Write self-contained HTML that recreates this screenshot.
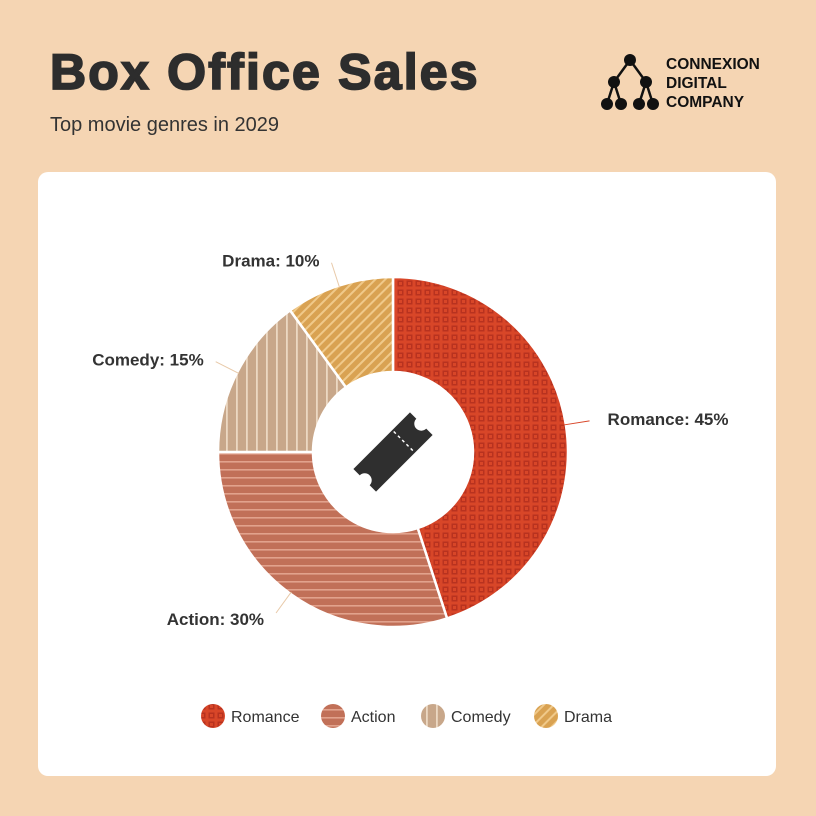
<!DOCTYPE html>
<html><head><meta charset="utf-8"><style>
body{margin:0;width:816px;height:816px;background:#f5d5b3;font-family:"Liberation Sans",sans-serif;position:relative;overflow:hidden}
#title{position:absolute;left:50px;top:43px;font-size:50px;font-weight:bold;color:#2d2d2d;letter-spacing:2.2px;-webkit-text-stroke:1.8px #2d2d2d}
#sub{position:absolute;left:50px;top:114px;font-size:20px;color:#333}
#logo{position:absolute;left:600px;top:52px}
#logo-text{position:absolute;left:666px;top:55px;font-size:15.5px;font-weight:bold;color:#111;line-height:19px}
#card{position:absolute;left:38px;top:172px;width:738px;height:604px;background:#fff;border-radius:10px}
svg#chart{position:absolute;left:0;top:0}
</style></head><body>
<div id="title">Box Office Sales</div>
<div id="sub">Top movie genres in 2029</div>
<svg id="logo" width="60" height="60">
<g stroke="#111" stroke-width="2.5"><line x1="30" y1="8" x2="14" y2="30"/><line x1="30" y1="8" x2="46" y2="30"/><line x1="14" y1="30" x2="7" y2="52"/><line x1="14" y1="30" x2="21" y2="52"/><line x1="46" y1="30" x2="39" y2="52"/><line x1="46" y1="30" x2="53" y2="52"/></g>
<g fill="#111"><circle cx="30" cy="8" r="6"/><circle cx="14" cy="30" r="6"/><circle cx="46" cy="30" r="6"/><circle cx="7" cy="52" r="6"/><circle cx="21" cy="52" r="6"/><circle cx="39" cy="52" r="6"/><circle cx="53" cy="52" r="6"/></g></svg>
<div id="logo-text">CONNEXION<br>DIGITAL<br>COMPANY</div>
<div id="card"></div>
<svg id="chart" width="816" height="816">
<defs>
<pattern id="p0" width="9" height="9" patternUnits="userSpaceOnUse"><rect width="9" height="9" fill="#d84628"/><rect x="1.5" y="1.5" width="6" height="6" fill="#b8321f"/><rect x="3" y="3" width="3" height="3" fill="#d84628"/></pattern>
<pattern id="p1" width="8" height="8" patternUnits="userSpaceOnUse"><rect width="8" height="8" fill="#c17058"/><rect y="5" width="8" height="1.6" fill="#e2a28c"/></pattern>
<pattern id="p2" width="10" height="10" patternUnits="userSpaceOnUse"><rect width="10" height="10" fill="#c8a78a"/><rect x="6" width="1.8" height="10" fill="#ecd8c2"/></pattern>
<pattern id="p3" width="7" height="7" patternUnits="userSpaceOnUse" patternTransform="rotate(45)"><rect width="7" height="7" fill="#d9a252"/><rect width="2" height="7" fill="#f0c98a"/></pattern>
</defs>
<g id="slices"></g><g id="labels"></g><g id="legend"></g>
<g transform="translate(393,452) rotate(-45)">
<path d="M-40,-16 H40 V-7 A7,7 0 0 0 40,7 V16 H-40 V7 A7,7 0 0 0 -40,-7 Z" fill="#2f2f2f"/>
<line x1="15" y1="-14" x2="15" y2="14" stroke="#fff" stroke-width="1.5" stroke-dasharray="3,3"/>
</g>
</svg>
<script>
const categories=["Romance","Action","Comedy","Drama"];
const values=[45,30,15,10];
const patterns=["url(#p0)","url(#p1)","url(#p2)","url(#p3)"];
const NS="http://www.w3.org/2000/svg";
const cx=393,cy=452,R=175,r=80;
const total=values.reduce((a,b)=>a+b,0);
const sl=document.getElementById('slices'),lb=document.getElementById('labels'),lg=document.getElementById('legend');
function pt(a,rad){return [cx+rad*Math.sin(a),cy-rad*Math.cos(a)];}
let acc=0;
values.forEach((v,i)=>{
 const a0=acc/total*2*Math.PI;acc+=v;const a1=acc/total*2*Math.PI;
 const [x0,y0]=pt(a0,R),[x1,y1]=pt(a1,R),[x2,y2]=pt(a1,r),[x3,y3]=pt(a0,r);
 const big=(a1-a0)>Math.PI?1:0;
 const p=document.createElementNS(NS,'path');
 p.setAttribute('d',`M${x0},${y0}A${R},${R} 0 ${big} 1 ${x1},${y1}L${x2},${y2}A${r},${r} 0 ${big} 0 ${x3},${y3}Z`);
 p.setAttribute('fill',patterns[i]);p.setAttribute('stroke','#fff');p.setAttribute('stroke-width','2.5');
 
 
 sl.appendChild(p);
 const am=(a0+a1)/2;const [lx0,ly0]=pt(am,R-2),[lx1,ly1]=pt(am,R+24);
 const ln=document.createElementNS(NS,'line');
 ln.setAttribute('x1',lx0);ln.setAttribute('y1',ly0);ln.setAttribute('x2',lx1);ln.setAttribute('y2',ly1);
 ln.setAttribute('stroke',i==0?'#d84628':'#e8c9a8');ln.setAttribute('stroke-width','1');
 
 
 lb.appendChild(ln);
 const t=document.createElementNS(NS,'text');
 const right=Math.sin(am)>0;
 const dy=Math.cos(am)<0?12:4;
 t.setAttribute('x',lx1+(right?18:-12));t.setAttribute('y',ly1+dy);
 t.setAttribute('text-anchor',right?'start':'end');
 t.setAttribute('font-size','17');t.setAttribute('font-weight','bold');t.setAttribute('fill','#333');
 t.setAttribute('font-family','Liberation Sans, sans-serif');
 t.textContent=categories[i]+': '+v+'%';
 
 
 lb.appendChild(t);
});
const lx=[213,333,433,546];
categories.forEach((c,i)=>{
 const g=document.createElementNS(NS,'g');
 
 
 const ci=document.createElementNS(NS,'circle');
 ci.setAttribute('cx',lx[i]);ci.setAttribute('cy',716);ci.setAttribute('r',12);ci.setAttribute('fill',patterns[i]);
 g.appendChild(ci);
 const t=document.createElementNS(NS,'text');
 t.setAttribute('x',lx[i]+18);t.setAttribute('y',722);t.setAttribute('font-size','16');t.setAttribute('fill','#333');
 t.textContent=c;g.appendChild(t);lg.appendChild(g);
});
</script>
</body></html>
